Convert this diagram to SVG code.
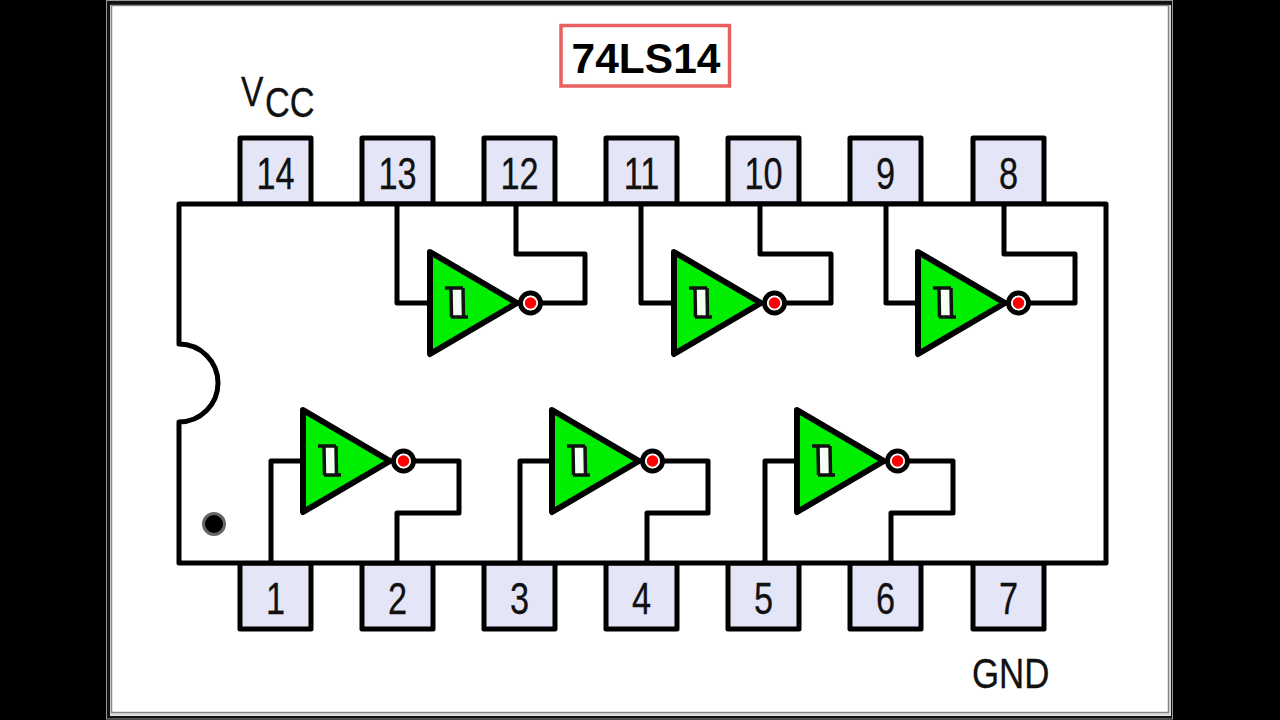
<svg xmlns="http://www.w3.org/2000/svg" width="1280" height="720" viewBox="0 0 1280 720">
<style>
.pin{fill:#e4e5f7;stroke:#000;stroke-width:5;stroke-linejoin:round}
.body{fill:#fff;stroke:#000;stroke-width:5;stroke-linejoin:round}
.wire{fill:none;stroke:#000;stroke-width:5;stroke-linejoin:round}
.tri{fill:#00ee00;stroke:#000;stroke-width:6;stroke-linejoin:round}
.hys{fill:none;stroke:#111;stroke-width:3.5}
.hysfill{fill:#f4fff4;stroke:none}
.bub{fill:#f00;stroke:#fff;stroke-width:1.5}
.ring{fill:#fff;stroke:#000;stroke-width:5}
.num{font-family:"Liberation Sans",Arial,sans-serif;font-size:44px;fill:#111;stroke:#111;stroke-width:.3;text-anchor:middle}
.lab{font-family:"Liberation Sans",Arial,sans-serif;font-size:42px;fill:#111;stroke:#111;stroke-width:.3}
</style>
<defs>
<g id="inverter">
<path class="tri" d="M0 -51L87 0L0 51Z"/>
<path class="hysfill" d="M21 -15H33L33.500 14H21.500Z"/>
<path class="hys" d="M15 -15H33M21 -15L21.500 14M33 -15L33.500 14M21 14H38"/>
<circle class="ring" cx="100.500" cy="0" r="10"/>
<circle class="bub" cx="100.500" cy="0" r="6.500"/>
</g>
</defs>
<rect width="1280" height="720" fill="#000"/>
<g id="frame">
<rect x="106.500" y="0.500" width="1066" height="718.500" fill="#111" stroke="#999" stroke-width="1"/>
<rect x="110" y="5" width="1061" height="711" fill="#ddd"/>
<rect x="111.500" y="5.500" width="1057" height="707" fill="#fff" stroke="#888" stroke-width="1.500"/>
</g>
<g id="title">
<rect x="561" y="25.500" width="168.500" height="60.500" fill="#fff" stroke="#ea5f5f" stroke-width="3.500"/>
<text x="646" y="73" font-family="'Liberation Sans',Arial,sans-serif" font-size="42.500" font-weight="bold" text-anchor="middle" fill="#000">74LS14</text>
</g>
<g id="pin14"><rect class="pin" x="240" y="138" width="71" height="66"/><text class="num" transform="translate(275.500 189) scale(.78 1)">14</text></g>
<g id="pin13"><rect class="pin" x="362" y="138" width="71" height="66"/><text class="num" transform="translate(397.500 189) scale(.78 1)">13</text></g>
<g id="pin12"><rect class="pin" x="484" y="138" width="71" height="66"/><text class="num" transform="translate(519.500 189) scale(.78 1)">12</text></g>
<g id="pin11"><rect class="pin" x="606" y="138" width="71" height="66"/><text class="num" transform="translate(641.500 189) scale(.78 1)">11</text></g>
<g id="pin10"><rect class="pin" x="728" y="138" width="71" height="66"/><text class="num" transform="translate(763.500 189) scale(.78 1)">10</text></g>
<g id="pin9"><rect class="pin" x="850" y="138" width="71" height="66"/><text class="num" transform="translate(885.500 189) scale(.78 1)">9</text></g>
<g id="pin8"><rect class="pin" x="973" y="138" width="71" height="66"/><text class="num" transform="translate(1008.500 189) scale(.78 1)">8</text></g>
<g id="pin1"><rect class="pin" x="240" y="563" width="71" height="66"/><text class="num" transform="translate(275.500 614) scale(.78 1)">1</text></g>
<g id="pin2"><rect class="pin" x="362" y="563" width="71" height="66"/><text class="num" transform="translate(397.500 614) scale(.78 1)">2</text></g>
<g id="pin3"><rect class="pin" x="484" y="563" width="71" height="66"/><text class="num" transform="translate(519.500 614) scale(.78 1)">3</text></g>
<g id="pin4"><rect class="pin" x="606" y="563" width="71" height="66"/><text class="num" transform="translate(641.500 614) scale(.78 1)">4</text></g>
<g id="pin5"><rect class="pin" x="728" y="563" width="71" height="66"/><text class="num" transform="translate(763.500 614) scale(.78 1)">5</text></g>
<g id="pin6"><rect class="pin" x="850" y="563" width="71" height="66"/><text class="num" transform="translate(885.500 614) scale(.78 1)">6</text></g>
<g id="pin7"><rect class="pin" x="973" y="563" width="71" height="66"/><text class="num" transform="translate(1008.500 614) scale(.78 1)">7</text></g>
<g id="package">
<path class="body" d="M179 204H1106V563H179V422A39 39 0 0 0 179 344Z"/>
<circle cx="214" cy="524" r="10.500" fill="#000" stroke="#666" stroke-width="3"/>
</g>
<g id="connectors">
<path class="wire" d="M397 204V303H430"/>
<path class="wire" d="M542 303H585V254H516V204"/>
<path class="wire" d="M641 204V303H674"/>
<path class="wire" d="M785 303H831V254H760V204"/>
<path class="wire" d="M886 204V303H918"/>
<path class="wire" d="M1029 303H1075V254H1004V204"/>
<path class="wire" d="M271 563V461H303"/>
<path class="wire" d="M414 461H459V513H397V563"/>
<path class="wire" d="M520 563V461H552"/>
<path class="wire" d="M663 461H708V513H647V563"/>
<path class="wire" d="M765 563V461H797"/>
<path class="wire" d="M909 461H953V513H891V563"/>
</g>
<g id="gate1"><use href="#inverter" x="430" y="303"/></g>
<g id="gate2"><use href="#inverter" x="674" y="303"/></g>
<g id="gate3"><use href="#inverter" x="918" y="303"/></g>
<g id="gate4"><use href="#inverter" x="303" y="461"/></g>
<g id="gate5"><use href="#inverter" x="552" y="461"/></g>
<g id="gate6"><use href="#inverter" x="797" y="461"/></g>
<g id="vcc"><text class="lab" transform="translate(241 106) scale(.8 1)">V</text><text class="lab" transform="translate(265 117) scale(.82 1)">CC</text></g>
<g id="gnd"><text class="lab" transform="translate(972 688) scale(.83 1)">GND</text></g>
</svg>
